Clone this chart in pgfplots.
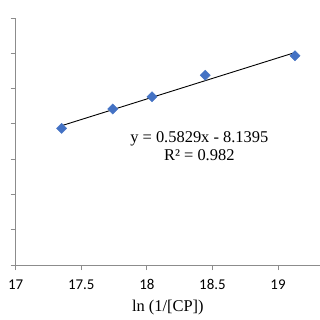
\documentclass[border=0pt]{standalone}
\usepackage{pgfplots}
\pgfplotsset{compat=1.18}
\usepackage{fontspec}
\setmainfont{Liberation Serif}
\newfontfamily\carlito{Carlito}
\definecolor{ptblue}{HTML}{4472C4}
\definecolor{axgray}{HTML}{8C8C8C}
\begin{document}
\begin{tikzpicture}
\path[use as bounding box] (-15.7bp,-55bp) rectangle (304.3bp,265bp);
\begin{axis}[
  scale only axis,
  width=304.3bp, height=247bp,
  xmin=17, xmax=19.32,
  ymin=0, ymax=3.5,
  axis x line=bottom, axis y line=left,
  axis line style={-, axgray, line width=0.8bp},
  xtick={17,17.5,18,18.5,19},
  ytick={0,0.5,1,1.5,2,2.5,3,3.5},
  yticklabels={},
  tick align=outside,
  major tick length=5bp,
  tick style={axgray, line width=0.8bp},
  /pgf/number format/assume math mode=true,
  xticklabel style={font=\carlito\fontsize{15}{15}\selectfont, yshift=-6bp},
  xlabel={ln (1/[CP])},
  xlabel style={font=\fontsize{16.5}{16.5}\selectfont, yshift=-3bp},
  clip=false,
]
\addplot[black, line width=0.9bp] coordinates {(17.35,1.974) (19.13,3.011)};
\addplot[only marks, mark=square*, mark size=3.6bp, mark options={rotate=45, fill=ptblue, draw=ptblue}]
  coordinates {(17.35,1.936) (17.74,2.21) (18.04,2.384) (18.445,2.69) (19.13,2.965)};
\node[align=center, font=\fontsize{16.5}{18}\selectfont] at (axis cs:18.40,1.686)
  {y = 0.5829x - 8.1395\\R² = 0.982};
\end{axis}
\end{tikzpicture}
\end{document}
